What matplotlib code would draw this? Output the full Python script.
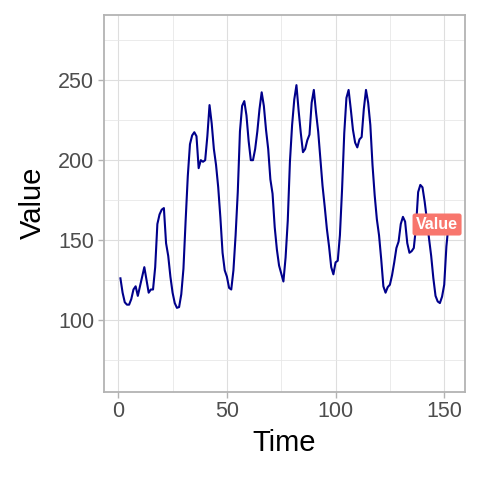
import matplotlib
matplotlib.use("Agg")
import matplotlib.pyplot as plt
import numpy as np

# values, one per time step
time = np.arange(1, 153)
value = [
    126, 117, 111, 109.5, 109.5, 113, 119, 121, 115, 121,
    127, 133, 125, 117, 119, 119, 133, 160, 166, 169,
    170, 148, 140, 127, 117, 110.5, 107.5, 108, 116, 132,
    162, 190, 210, 215.5, 217.5, 215, 195, 200, 199, 200,
    215, 234.5, 223, 207, 197, 183, 164, 142, 131, 127,
    120, 119, 131, 153, 180, 218, 234, 237, 228, 212,
    200, 200, 207, 218, 232, 242.5, 234, 219, 207, 188,
    179, 158, 144, 134, 129, 124, 139, 162, 199, 222,
    238, 247, 231, 217, 205, 207, 212.5, 216, 236, 244,
    230, 218, 201, 184, 171, 157, 146, 133, 128.5, 136,
    137, 153, 182, 217, 239, 244, 232, 219, 211, 208,
    213, 214.5, 232, 244, 236, 222, 197, 178, 163, 153,
    138, 121, 117, 120.5, 122, 128, 136, 145, 149, 160,
    164.5, 161.5, 148, 142, 143, 145, 158, 180, 184.5, 183,
    174, 163, 151, 140, 126, 115, 111.5, 110.5, 114.5, 122,
    146, 160,
]
label_text = "Value"
label_pos = (146.7, 159.7)

x_ticks = [0, 50, 100, 150]
y_ticks = [100, 150, 200, 250]

plt.rcParams['font.family'] = ['Liberation Sans', 'DejaVu Sans']

fig = plt.figure(figsize=(4.8, 4.8), dpi=100)
ax = fig.add_axes([0.2167, 0.184, 0.752, 0.785])

ax.plot(time, value, color='#00008B', lw=1.5, zorder=3)

ax.text(label_pos[0], label_pos[1], label_text, color='white', fontsize=11.5,
        fontweight='bold', ha='center', va='center', zorder=4,
        bbox=dict(boxstyle='round,pad=0.22,rounding_size=0.15',
                  fc='#F8766D', ec='none'))

ax.set_xlim(-6.55, 159.55)
ax.set_ylim(55, 291)
ax.set_xticks(x_ticks)
ax.set_yticks(y_ticks)
ax.set_xticks([25, 75, 125], minor=True)
ax.set_yticks([75, 125, 175, 225, 275], minor=True)

ax.grid(which='major', color='#DEDEDE', lw=0.8)
ax.grid(which='minor', color='#E6E6E6', lw=0.55)
ax.set_axisbelow(True)

for s in ax.spines.values():
    s.set_color('#B3B3B3')
    s.set_linewidth(1.3)

ax.tick_params(which='major', colors='#B3B3B3', length=4, width=1,
               labelcolor='#4D4D4D', labelsize=15.5, pad=3)
ax.tick_params(which='minor', length=0)

ax.set_xlabel('Time', fontsize=21, color='black', labelpad=5)
ax.set_ylabel('Value', fontsize=21, color='black', labelpad=8)

fig.savefig('out.png', dpi=100)
